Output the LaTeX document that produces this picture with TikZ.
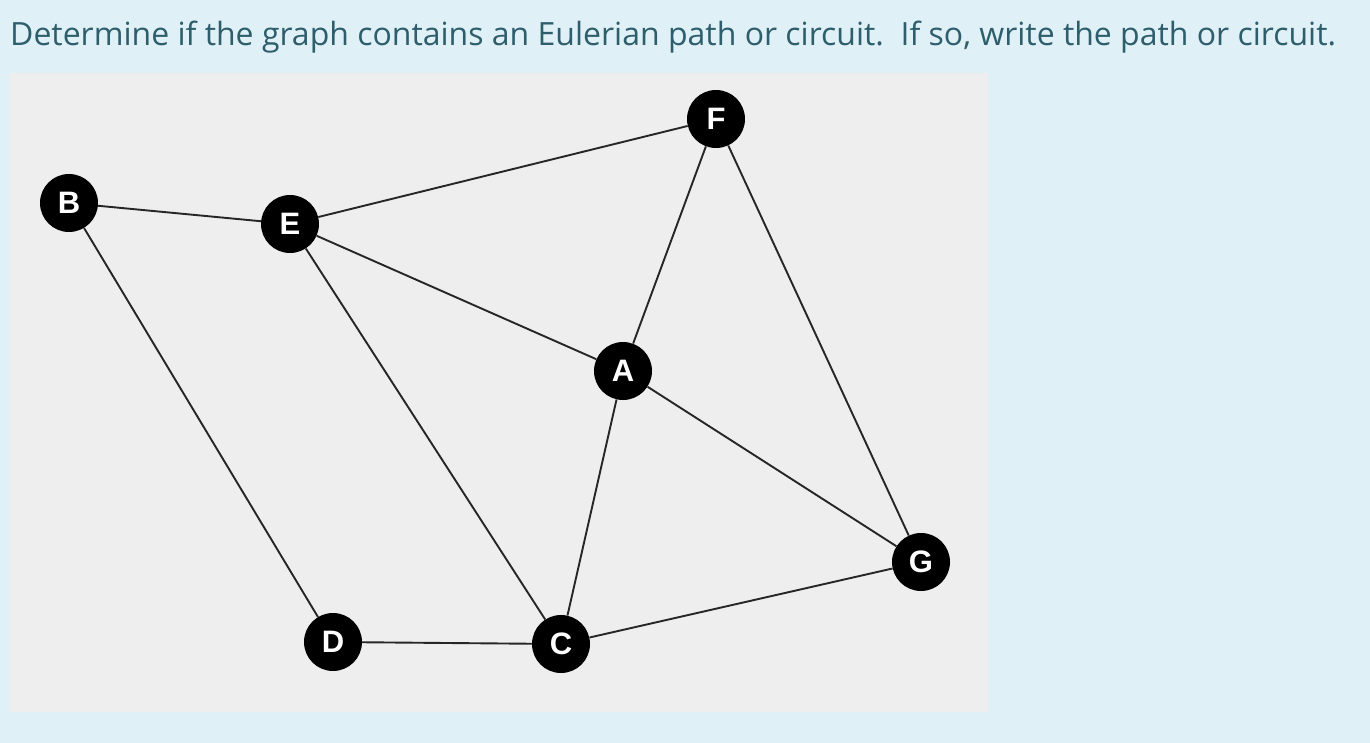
\documentclass[tikz,border=0pt]{standalone}
\usepackage{fontspec}
\setmainfont{Open Sans}
\newfontfamily\labelfont{Liberation Sans}
\definecolor{bgblue}{HTML}{DFF0F6}
\definecolor{panelgray}{HTML}{EEEEEE}
\definecolor{titlecol}{HTML}{2E5E6C}
\begin{document}
\begin{tikzpicture}[x=1pt,y=-1pt,
  vert/.style={circle,fill=black,inner sep=0pt,minimum size=58pt,text=white,font=\labelfont\bfseries\fontsize{31}{31}\selectfont},
  edge/.style={line width=1.9pt,draw=black!85}]
\fill[bgblue] (0,0) rectangle (1370,743);
\useasboundingbox (0,0) rectangle (1370,743);
\fill[panelgray] (9,73) rectangle (988,712);
\node[anchor=base west,inner sep=0pt,text=titlecol,font=\fontsize{32}{32}\selectfont] (title) at (10,46) {Determine if the graph contains an Eulerian path or circuit.\ \ If so, write the path or circuit.};
\node[vert] (B) at (69,203) {B};
\node[vert] (E) at (290,224) {E};
\node[vert] (F) at (716,119) {F};
\node[vert] (A) at (623,371) {A};
\node[vert] (G) at (921,562) {G};
\node[vert] (D) at (333,642) {D};
\node[vert] (C) at (561,644) {C};
\draw[edge] (B) -- (E);
\draw[edge] (E) -- (F);
\draw[edge] (B) -- (D);
\draw[edge] (E) -- (A);
\draw[edge] (E) -- (C);
\draw[edge] (F) -- (A);
\draw[edge] (F) -- (G);
\draw[edge] (A) -- (C);
\draw[edge] (A) -- (G);
\draw[edge] (D) -- (C);
\draw[edge] (C) -- (G);
\end{tikzpicture}
\end{document}
